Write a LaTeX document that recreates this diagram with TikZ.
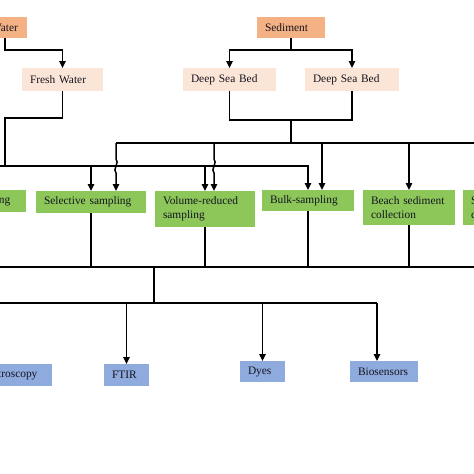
\documentclass[tikz,border=0pt]{standalone}
\usepackage{fontspec}
\setmainfont{Liberation Serif}
\usetikzlibrary{arrows.meta,calc}
\definecolor{orangebox}{HTML}{F4B183}
\definecolor{peachbox}{HTML}{FBE5D6}
\definecolor{greenbox}{HTML}{8DC75A}
\definecolor{bluebox}{HTML}{8FAADC}
\definecolor{txt}{HTML}{141420}
\begin{document}
\begin{tikzpicture}[x=1pt,y=-1pt,
  box/.style={draw=none, anchor=north west, inner xsep=8pt, inner ysep=0pt, outer sep=0pt,
    align=left, font=\fontsize{11.4}{14}\selectfont, text=txt},
  line/.style={line width=1.5pt, black},
  arr/.style={line, -{Triangle[length=7pt,width=6.5pt]}},
]
\useasboundingbox (0,0) rectangle (474,474);
\fill[white] (0,0) rectangle (474,474);
\clip (0,0) rectangle (474,474);

% top row
\node[box, fill=orangebox, text width=28pt, minimum height=21pt] (water) at (-17,17) {Water};
\node[box, fill=orangebox, text width=52pt, minimum height=21pt] (sed) at (257,17) {Sediment};
% second row
\node[box, fill=peachbox, text width=65pt, minimum height=23pt] (fresh) at (22,68) {Fresh Water};
\node[box, fill=peachbox, text width=77pt, minimum height=23pt] (dsb1) at (183,68) {Deep Sea Bed};
\node[box, fill=peachbox, text width=78pt, minimum height=23pt] (dsb2) at (305,68) {Deep Sea Bed};
% green row
\node[box, fill=greenbox, text width=76pt, minimum height=22pt] (grab) at (-66,190) {Grab sampling};
\node[box, fill=greenbox, text width=94pt, minimum height=22pt] (sel) at (36,191) {Selective sampling};
\node[box, fill=greenbox, text width=84pt, minimum height=36pt] (vol) at (155,191) {Volume-reduced\\sampling};
\node[box, fill=greenbox, text width=76pt, minimum height=21pt] (bulk) at (262,190) {Bulk-sampling};
\node[box, fill=greenbox, text width=76pt, minimum height=35pt] (beach) at (363,190) {Beach sediment\\collection};
\node[box, fill=greenbox, text width=84pt, minimum height=35pt] (sbox) at (463,190) {Sediment core\\collection};
% blue row
\node[box, fill=bluebox, text width=68pt, minimum height=22pt] (spec) at (-32,364) {Spectroscopy};
\node[box, fill=bluebox, text width=29pt, minimum height=22pt] (ftir) at (104,364) {FTIR};
\node[box, fill=bluebox, text width=29pt, minimum height=21pt] (dyes) at (240,361) {Dyes};
\node[box, fill=bluebox, text width=52pt, minimum height=21pt] (bio) at (350,361) {Biosensors};

% helper coordinates
\coordinate (yS) at (0,120);
\coordinate (yF) at (0,118);
\coordinate (yA) at (0,143);
\coordinate (yB) at (0,166);
\coordinate (yC) at (0,267);
\coordinate (yD) at (0,303);
\coordinate (aL) at (116,143);
\coordinate (aR) at (490,143);
\coordinate (bL) at (-10,166);
\coordinate (cL) at (-10,267);
\coordinate (cR) at (490,267);
\coordinate (cj) at (154,267);
\coordinate (dL) at (-10,303);
\coordinate (dR) at (377,303);
\coordinate (j1) at (116,143);
\coordinate (j2) at (214,143);
\coordinate (j3) at (322,143);

% water branch
\draw[arr] (water.south) -- ++(0,12) -| (fresh.north);
% sediment branch
\draw[line] (sed.south) -- ++(0,12) coordinate (sj);
\draw[arr] (sj) -| (dsb1.north);
\draw[arr] (sj) -| (dsb2.north);
\draw[line] (dsb1.south) |- (dsb2.south |- yS) -- (dsb2.south);
\draw[line] (sed.south |- yS) -- (sed.south |- yA);

% fresh water to bus B
\draw[line] (fresh.south) |- (water.south |- yF) -- (water.south |- yB);
% bus B
\draw[arr] (bL) -| (bulk.north);
\draw[arr] (sel.north |- yB) -- (sel.north);
\draw[arr] (vol.north |- yB) -- (vol.north);

% bus A
\draw[line] (aL) -- (aR);
\draw[arr] (j1) -- (116,159) .. controls (120,162) and (112,170) .. (116,173) -- (j1 |- sel.north);
\draw[arr] (j2) -- (214,159) .. controls (218,162) and (210,170) .. (214,173) -- (j2 |- vol.north);
\draw[arr] (j3) -- (j3 |- bulk.north);
\draw[arr] (beach.north |- yA) -- (beach.north);
\draw[arr] (sbox.north |- yA) -- (sbox.north);

% bus C
\draw[line] (sel.south) -- (sel.south |- yC);
\draw[line] (vol.south) -- (vol.south |- yC);
\draw[line] (bulk.south) -- (bulk.south |- yC);
\draw[line] (beach.south) -- (beach.south |- yC);
\draw[line] (cL) -- (cR);
\draw[line] (cj) -- (cj |- yD);

% bus D
\draw[line] (dL) -- (dR);
\draw[arr] (ftir.north |- yD) -- (ftir.north);
\draw[arr] (dyes.north |- yD) -- (dyes.north);
\draw[arr] (dR) -- (dR |- bio.north);
\end{tikzpicture}
\end{document}
